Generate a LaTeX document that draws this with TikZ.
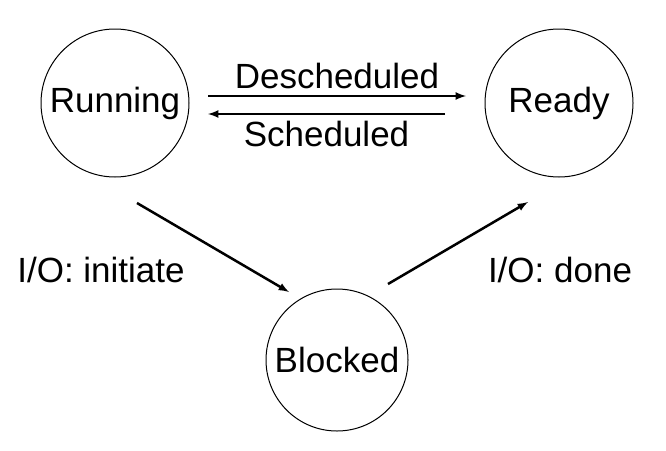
\documentclass[tikz,border=0pt]{standalone}
\usepackage{fontspec}
\setmainfont{Liberation Sans}
\begin{document}
\begin{tikzpicture}[x=1pt,y=-1pt,>=latex,
    state/.style={draw,circle,minimum size=148pt,inner sep=0pt,line width=1pt},
    lbl/.style={font=\fontsize{35}{40}\selectfont},
    trans/.style={->,line width=2.5pt}]
        \useasboundingbox (0,0) rectangle (666,450);
        % the three states
        \node[state,lbl] (running) at (115,103) {Running};
        \node[state,lbl] (ready) at (559,103) {Ready};
        \node[state,lbl,minimum size=142pt] (blocked) at (337,360) {Blocked};

        % end points of the transitions
        \coordinate (d1) at (208,96);  \coordinate (d2) at (466,96);
        \coordinate (s1) at (445,114); \coordinate (s2) at (208,114);
        \coordinate (i1) at (137,203); \coordinate (i2) at (289,292);
        \coordinate (o1) at (388,284); \coordinate (o2) at (528,202);

        \draw[trans] (d1) -- (d2) node[midway,above=3pt,lbl] {Descheduled};
        \draw[trans] (s1) -- (s2) node[midway,below=3pt,lbl] {Scheduled};
        \draw[trans] (i1) -- (i2);
        \draw[trans] (o1) -- (o2);
        \node[lbl] (initiate) at (101,270) {I/O: initiate};
        \node[lbl] (done) at (560,270) {I/O: done};
\end{tikzpicture}
\end{document}
